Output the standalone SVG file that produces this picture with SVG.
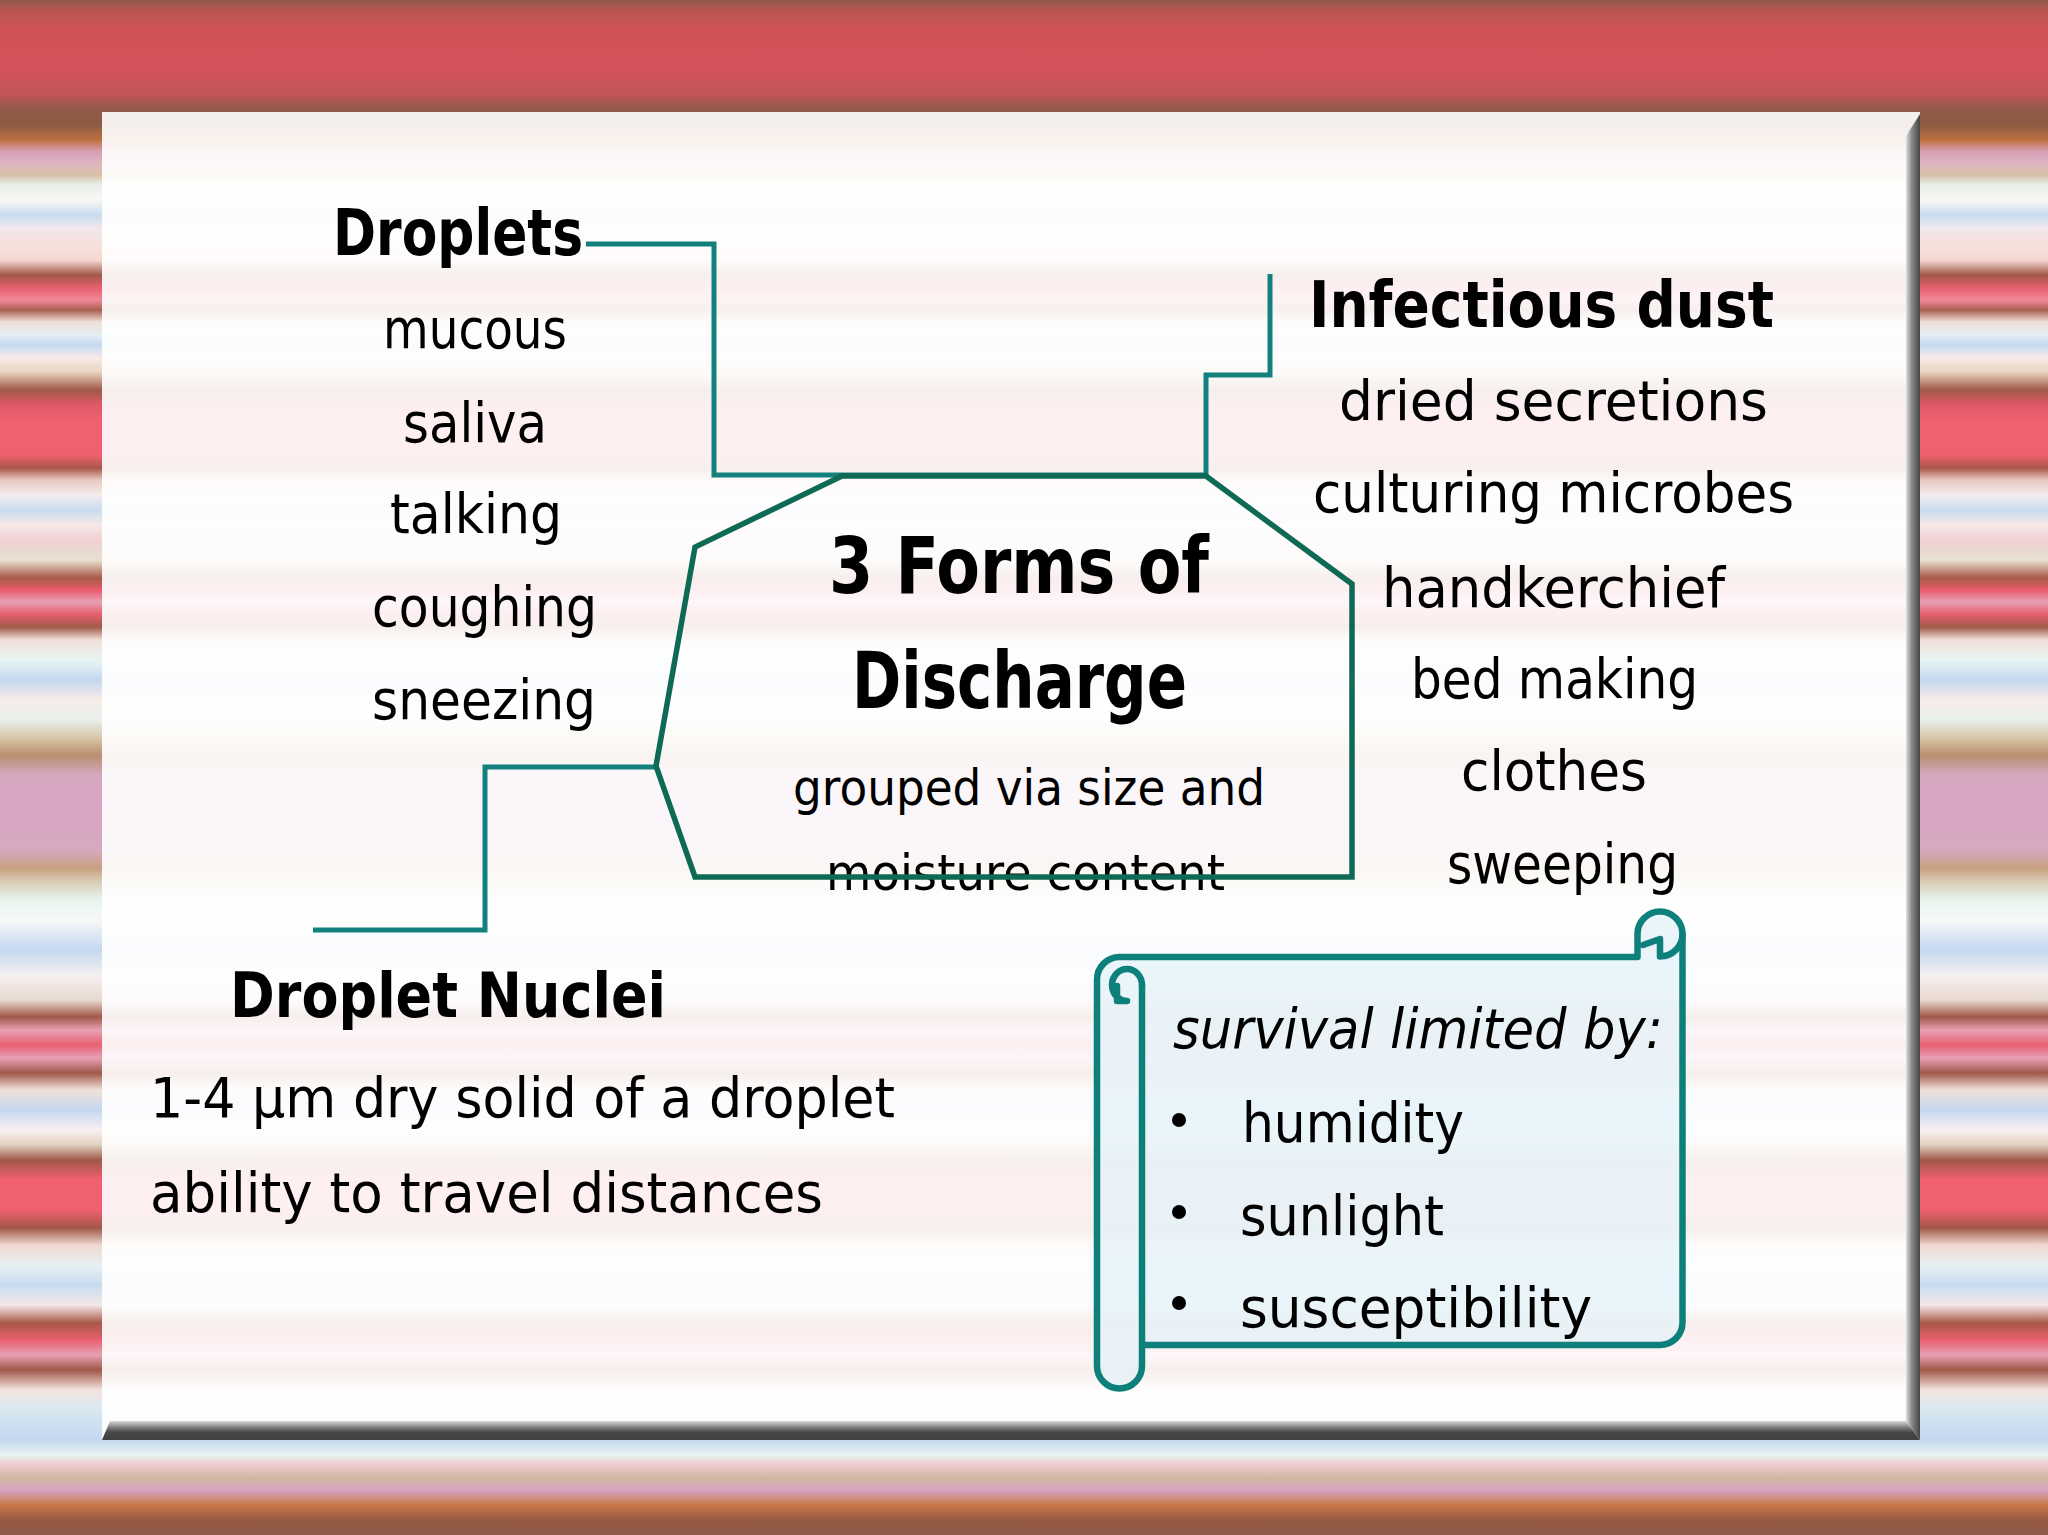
<svg xmlns="http://www.w3.org/2000/svg" width="2048" height="1535" viewBox="0 0 2048 1535">
<defs>
<linearGradient id="bg" gradientUnits="userSpaceOnUse" x1="0" y1="0" x2="0" y2="1535">
<stop offset="0" stop-color="#8e5a4a"/>
<stop offset="0.0065" stop-color="#b85650"/>
<stop offset="0.0195" stop-color="#d05358"/>
<stop offset="0.0456" stop-color="#d2535a"/>
<stop offset="0.0619" stop-color="#c05555"/>
<stop offset="0.0717" stop-color="#8f5a48"/>
<stop offset="0.0814" stop-color="#8c5c44"/>
<stop offset="0.0912" stop-color="#c07040"/>
<stop offset="0.0990" stop-color="#d8a0b8"/>
<stop offset="0.1075" stop-color="#e0b8c0"/>
<stop offset="0.1140" stop-color="#d8c0a8"/>
<stop offset="0.1205" stop-color="#e8f0e8"/>
<stop offset="0.1303" stop-color="#f8f8f4"/>
<stop offset="0.1401" stop-color="#c8dcf0"/>
<stop offset="0.1485" stop-color="#f0e8ec"/>
<stop offset="0.1596" stop-color="#f8e0dc"/>
<stop offset="0.1694" stop-color="#f4d8d0"/>
<stop offset="0.1792" stop-color="#a05848"/>
<stop offset="0.1876" stop-color="#e86070"/>
<stop offset="0.1954" stop-color="#f08898"/>
<stop offset="0.2020" stop-color="#a86050"/>
<stop offset="0.2098" stop-color="#f0e0d8"/>
<stop offset="0.2182" stop-color="#e4eef4"/>
<stop offset="0.2248" stop-color="#c4d8f0"/>
<stop offset="0.2332" stop-color="#f8ece8"/>
<stop offset="0.2423" stop-color="#e8d4c0"/>
<stop offset="0.2541" stop-color="#a05a48"/>
<stop offset="0.2638" stop-color="#e05868"/>
<stop offset="0.2736" stop-color="#f06070"/>
<stop offset="0.2964" stop-color="#f06070"/>
<stop offset="0.3049" stop-color="#a85848"/>
<stop offset="0.3127" stop-color="#e8c8c0"/>
<stop offset="0.3225" stop-color="#f4ecec"/>
<stop offset="0.3322" stop-color="#c8dcf0"/>
<stop offset="0.3420" stop-color="#f8e8e8"/>
<stop offset="0.3518" stop-color="#f0d0d4"/>
<stop offset="0.3648" stop-color="#e8e0d0"/>
<stop offset="0.3765" stop-color="#a85a48"/>
<stop offset="0.3844" stop-color="#e85c6c"/>
<stop offset="0.3922" stop-color="#e8a0b4"/>
<stop offset="0.4000" stop-color="#e86070"/>
<stop offset="0.4085" stop-color="#a05a48"/>
<stop offset="0.4169" stop-color="#f0e0d8"/>
<stop offset="0.4300" stop-color="#e8f4f4"/>
<stop offset="0.4430" stop-color="#c4d8f0"/>
<stop offset="0.4560" stop-color="#f8ece8"/>
<stop offset="0.4691" stop-color="#e8f0ec"/>
<stop offset="0.4821" stop-color="#d4c0a0"/>
<stop offset="0.4919" stop-color="#b89070"/>
<stop offset="0.5049" stop-color="#d8a8c0"/>
<stop offset="0.5212" stop-color="#d8a4c4"/>
<stop offset="0.5537" stop-color="#d8a8c0"/>
<stop offset="0.5655" stop-color="#c8a080"/>
<stop offset="0.5733" stop-color="#d8c8b0"/>
<stop offset="0.5863" stop-color="#e8f4ee"/>
<stop offset="0.5993" stop-color="#f8f8f8"/>
<stop offset="0.6189" stop-color="#c4d8f0"/>
<stop offset="0.6352" stop-color="#f4f0f0"/>
<stop offset="0.6515" stop-color="#e8d8d0"/>
<stop offset="0.6625" stop-color="#a05848"/>
<stop offset="0.6710" stop-color="#e8a0b4"/>
<stop offset="0.6808" stop-color="#e86070"/>
<stop offset="0.6893" stop-color="#e8a0b8"/>
<stop offset="0.6990" stop-color="#a05848"/>
<stop offset="0.7101" stop-color="#f0e0d8"/>
<stop offset="0.7231" stop-color="#c4d8f0"/>
<stop offset="0.7362" stop-color="#f8f0f0"/>
<stop offset="0.7459" stop-color="#e0d0c0"/>
<stop offset="0.7557" stop-color="#a05848"/>
<stop offset="0.7687" stop-color="#f06070"/>
<stop offset="0.7883" stop-color="#f06070"/>
<stop offset="0.8000" stop-color="#a05848"/>
<stop offset="0.8111" stop-color="#f0d8d0"/>
<stop offset="0.8241" stop-color="#e8f0f4"/>
<stop offset="0.8371" stop-color="#c8dcf0"/>
<stop offset="0.8502" stop-color="#f4e8e8"/>
<stop offset="0.8619" stop-color="#a85848"/>
<stop offset="0.8730" stop-color="#e86070"/>
<stop offset="0.8827" stop-color="#e8a0b4"/>
<stop offset="0.8925" stop-color="#a05848"/>
<stop offset="0.9055" stop-color="#f4e4e0"/>
<stop offset="0.9186" stop-color="#d8e8f0"/>
<stop offset="0.9381" stop-color="#c4d8f0"/>
<stop offset="0.9479" stop-color="#e8f4f0"/>
<stop offset="0.9544" stop-color="#f0c8d0"/>
<stop offset="0.9629" stop-color="#d0b8a0"/>
<stop offset="0.9707" stop-color="#d8a4c4"/>
<stop offset="0.9805" stop-color="#c87848"/>
<stop offset="0.9902" stop-color="#985a44"/>
<stop offset="1" stop-color="#8a5a48"/>
</linearGradient>
<linearGradient id="shadowB" x1="0" y1="0" x2="0" y2="1">
<stop offset="0" stop-color="#d8d8d8"/>
<stop offset="0.35" stop-color="#7a7a7a"/>
<stop offset="0.6" stop-color="#474747"/>
<stop offset="1" stop-color="#404040"/>
</linearGradient>
<linearGradient id="shadowR" x1="0" y1="0" x2="1" y2="0">
<stop offset="0" stop-color="#e0e0e0"/>
<stop offset="0.4" stop-color="#8a8a8a"/>
<stop offset="1" stop-color="#444444"/>
</linearGradient>
<style>
.t{font-family:"DejaVu Sans","Liberation Sans",sans-serif;fill:#000;}
.h{font-weight:bold;font-size:64px;}
.i{font-size:56px;}
.conn{fill:none;stroke:#12807c;stroke-width:5;stroke-linejoin:miter;}
.hex{fill:none;stroke:#0e6a55;stroke-width:5.5;stroke-linejoin:miter;}
.scr{fill:none;stroke:#0e807b;stroke-width:6.5;stroke-linejoin:round;stroke-linecap:round;}
</style>
</defs>

<!-- background -->
<rect x="0" y="0" width="2048" height="1535" fill="url(#bg)"/>
<!-- panel -->
<rect x="102" y="112" width="1818" height="1328" fill="url(#bg)"/>
<rect x="102" y="112" width="1818" height="1328" fill="#ffffff" fill-opacity="0.9"/>
<path d="M102,1440 L110,1421 H1906 L1920,1440 Z" fill="url(#shadowB)"/>
<path d="M1906,136 L1920,114 V1440 L1906,1421 Z" fill="url(#shadowR)"/>

<!-- connectors -->
<g id="connectors">
<polyline class="conn" points="586,244 714,244 714,475 1206,475"/>
<polyline class="conn" points="1270,274 1270,375 1206,375 1206,475"/>
<polyline class="conn" points="657,767 485,767 485,930 313,930"/>
</g>

<!-- central node -->
<g id="node-center">
<text class="t" x="829" y="593" font-size="78" font-weight="bold" textLength="380" lengthAdjust="spacingAndGlyphs">3 Forms of</text>
<text class="t" x="852" y="708" font-size="78" font-weight="bold" textLength="335" lengthAdjust="spacingAndGlyphs">Discharge</text>
<text class="t" x="793" y="805" font-size="50" textLength="472" lengthAdjust="spacingAndGlyphs">grouped via size and</text>
<text class="t" x="826" y="890" font-size="50" textLength="399" lengthAdjust="spacingAndGlyphs">moisture content</text>
<polygon class="hex" points="842,476 1206,476 1352,584 1352,877 695,877 656,766 695,547"/>
</g>

<!-- Droplets -->
<g id="node-droplets">
<text class="t h" x="333" y="255" textLength="250" lengthAdjust="spacingAndGlyphs">Droplets</text>
<text class="t i" x="383" y="348" textLength="184" lengthAdjust="spacingAndGlyphs">mucous</text>
<text class="t i" x="403" y="442" textLength="144" lengthAdjust="spacingAndGlyphs">saliva</text>
<text class="t i" x="390" y="533" textLength="172" lengthAdjust="spacingAndGlyphs">talking</text>
<text class="t i" x="372" y="626" textLength="225" lengthAdjust="spacingAndGlyphs">coughing</text>
<text class="t i" x="372" y="719" textLength="224" lengthAdjust="spacingAndGlyphs">sneezing</text>
</g>

<!-- Infectious dust -->
<g id="node-infectious-dust">
<text class="t h" x="1309" y="327" textLength="465" lengthAdjust="spacingAndGlyphs">Infectious  dust</text>
<text class="t i" x="1339" y="420" textLength="429" lengthAdjust="spacingAndGlyphs">dried secretions</text>
<text class="t i" x="1313" y="512" textLength="481" lengthAdjust="spacingAndGlyphs">culturing microbes</text>
<text class="t i" x="1382" y="607" textLength="343" lengthAdjust="spacingAndGlyphs">handkerchief</text>
<text class="t i" x="1411" y="698" textLength="287" lengthAdjust="spacingAndGlyphs">bed making</text>
<text class="t i" x="1461" y="790" textLength="186" lengthAdjust="spacingAndGlyphs">clothes</text>
<text class="t i" x="1447" y="883" textLength="231" lengthAdjust="spacingAndGlyphs">sweeping</text>
</g>

<!-- Droplet Nuclei -->
<g id="node-droplet-nuclei">
<text class="t" x="230" y="1017" font-size="62" font-weight="bold" textLength="436" lengthAdjust="spacingAndGlyphs">Droplet Nuclei</text>
<text class="t i" x="150" y="1117" textLength="745" lengthAdjust="spacingAndGlyphs">1-4 µm dry solid of a droplet</text>
<text class="t i" x="150" y="1212" textLength="673" lengthAdjust="spacingAndGlyphs">ability to travel distances</text>
</g>

<!-- Scroll -->
<g id="node-scroll">
<path d="M1097,979.5 A22.5,22.5 0 0 1 1119.5,957 H1637.5 V934 A22.5,22.5 0 0 1 1682.5,934 V1322.5 A22.5,22.5 0 0 1 1660,1345 H1142 V1366 A22.5,22.5 0 0 1 1097,1366 Z" fill="#e2f1f8" fill-opacity="0.72"/>
<path class="scr" d="M1142,1345 H1660 A22.5,22.5 0 0 0 1682.5,1322.5 V934 A22.5,22.5 0 0 0 1637.5,934 V957 H1119.5 A22.5,22.5 0 0 0 1097,979.5 V1366 A22.5,22.5 0 0 0 1142,1366 V985"/>
<path class="scr" d="M1682.5,934 A22.5,22.5 0 0 1 1660,956.5 V939 L1643,945"/>
<path class="scr" d="M1142,985 A15,16 0 0 0 1112,985 A15,16 0 0 0 1127,1001 H1117 V986"/>
<text class="t" x="1173" y="1048" font-size="55" font-style="italic" textLength="490" lengthAdjust="spacingAndGlyphs">survival limited by:</text>
<circle cx="1179" cy="1120" r="7"/>
<circle cx="1179" cy="1212" r="7"/>
<circle cx="1179" cy="1303" r="7"/>
<text class="t i" x="1242" y="1142" textLength="222" lengthAdjust="spacingAndGlyphs">humidity</text>
<text class="t i" x="1240" y="1235" textLength="204" lengthAdjust="spacingAndGlyphs">sunlight</text>
<text class="t i" x="1240" y="1327" textLength="352" lengthAdjust="spacingAndGlyphs">susceptibility</text>
</g>
</svg>
